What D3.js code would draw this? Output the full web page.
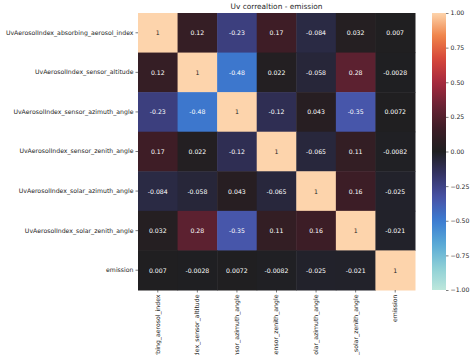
<!DOCTYPE html>
<html><head><meta charset="utf-8">
<script src="https://cdn.jsdelivr.net/npm/d3@7"></script>
<style>html,body{margin:0;padding:0;background:#fff;}svg{display:block;font-family:"DejaVu Sans",sans-serif;}</style>
</head><body><svg id="c" width="474" height="355"></svg>
<script>
const labels = ["UvAerosolIndex_absorbing_aerosol_index","UvAerosolIndex_sensor_altitude","UvAerosolIndex_sensor_azimuth_angle","UvAerosolIndex_sensor_zenith_angle","UvAerosolIndex_solar_azimuth_angle","UvAerosolIndex_solar_zenith_angle","emission"];
const values = [
 [1, 0.12, -0.23, 0.17, -0.084, 0.032, 0.007],
 [0.12, 1, -0.48, 0.022, -0.058, 0.28, -0.0028],
 [-0.23, -0.48, 1, -0.12, 0.043, -0.35, 0.0072],
 [0.17, 0.022, -0.12, 1, -0.065, 0.11, -0.0082],
 [-0.084, -0.058, 0.043, -0.065, 1, 0.16, -0.025],
 [0.032, 0.28, -0.35, 0.11, 0.16, 1, -0.021],
 [0.007, -0.0028, 0.0072, -0.0082, -0.025, -0.021, 1]
];
const cbTicks = [1, 0.75, 0.5, 0.25, 0, -0.25, -0.5, -0.75, -1];
const titleText = "Uv correaltion - emission";
const cmapStops = ["#bde7db","#8ccfd6","#58a9d6","#3c7cd2","#4852a6","#353466","#1f1f21","#3d1d26","#6b2334","#a62a3e","#d6463a","#ef8349","#fdd4ac"];

const FS = 6.2;
const svg = d3.select("#c");
const L = 138, T = 13, S = 277;
const x = d3.scaleBand().domain(labels).range([L, L+S]);
const y = d3.scaleBand().domain(labels).range([T, T+S]);
const color = d3.scaleLinear().domain(d3.range(cmapStops.length).map(i => -1 + 2*i/(cmapStops.length-1))).range(cmapStops).interpolate(d3.interpolateRgb).clamp(true);

const cells = [];
values.forEach((row,i)=>row.forEach((v,j)=>cells.push({r:labels[i],c:labels[j],v})));
svg.append("g").selectAll("rect").data(cells).join("rect")
  .attr("x",d=>x(d.c)).attr("y",d=>y(d.r)).attr("width",x.bandwidth()+0.5).attr("height",y.bandwidth()+0.5)
  .attr("fill",d=>color(d.v));
function lum(c){const k=d3.rgb(c);const f=u=>{u/=255;return u<=0.03928?u/12.92:Math.pow((u+0.055)/1.055,2.4)};return 0.2126*f(k.r)+0.7152*f(k.g)+0.0722*f(k.b);}
svg.append("g").selectAll("text").data(cells).join("text")
  .attr("x",d=>x(d.c)+x.bandwidth()/2).attr("y",d=>y(d.r)+y.bandwidth()/2)
  .attr("text-anchor","middle").attr("dominant-baseline","central")
  .attr("font-size",FS).attr("fill",d=>lum(color(d.v))>0.408?"#262626":"#ffffff")
  .text(d=>String(d.v));

const yAxis = svg.append("g").attr("transform",`translate(${L},0)`).call(d3.axisLeft(y).tickSize(2.5).tickPadding(2));
yAxis.select(".domain").remove();
yAxis.selectAll("text").attr("font-size",FS).attr("fill","#262626").attr("font-family","DejaVu Sans");
yAxis.selectAll("line").attr("stroke","#262626").attr("stroke-width",0.6);

const xAxis = svg.append("g").attr("transform",`translate(0,${T+S})`).call(d3.axisBottom(x).tickSize(2.5).tickPadding(2));
xAxis.select(".domain").remove();
xAxis.selectAll("line").attr("stroke","#262626").attr("stroke-width",0.6);
xAxis.selectAll("text").attr("font-size",FS).attr("fill","#262626").attr("font-family","DejaVu Sans")
  .attr("transform","rotate(-90)").attr("text-anchor","end").attr("dy","0.32em").attr("x",-4.5).attr("y",0);

svg.append("text").attr("x",L+S/2).attr("y",9).attr("text-anchor","middle").attr("font-size",7.4).attr("fill","#262626").text(titleText);

// colorbar
const cbX = 432, cbW = 14;
const cy = d3.scaleLinear().domain([-1,1]).range([T+S, T]);
const defs = svg.append("defs");
const grad = defs.append("linearGradient").attr("id","g").attr("x1",0).attr("y1",1).attr("x2",0).attr("y2",0);
d3.range(0,1.0001,0.02).forEach(t=>grad.append("stop").attr("offset",t).attr("stop-color",color(-1+2*t)));
svg.append("rect").attr("x",cbX).attr("y",T).attr("width",cbW).attr("height",S).attr("fill","url(#g)");
const cAxis = svg.append("g").attr("transform",`translate(${cbX+cbW},0)`).call(d3.axisRight(cy).tickValues(cbTicks).tickFormat(d3.format(".2f")).tickSize(2.5).tickPadding(2));
cAxis.select(".domain").remove();
cAxis.selectAll("line").attr("stroke","#262626").attr("stroke-width",0.6);
cAxis.selectAll("text").attr("font-size",FS).attr("fill","#262626").attr("font-family","DejaVu Sans").text(d=>d3.format(".2f")(d).replace("-","\u2212"));
</script></body></html>
